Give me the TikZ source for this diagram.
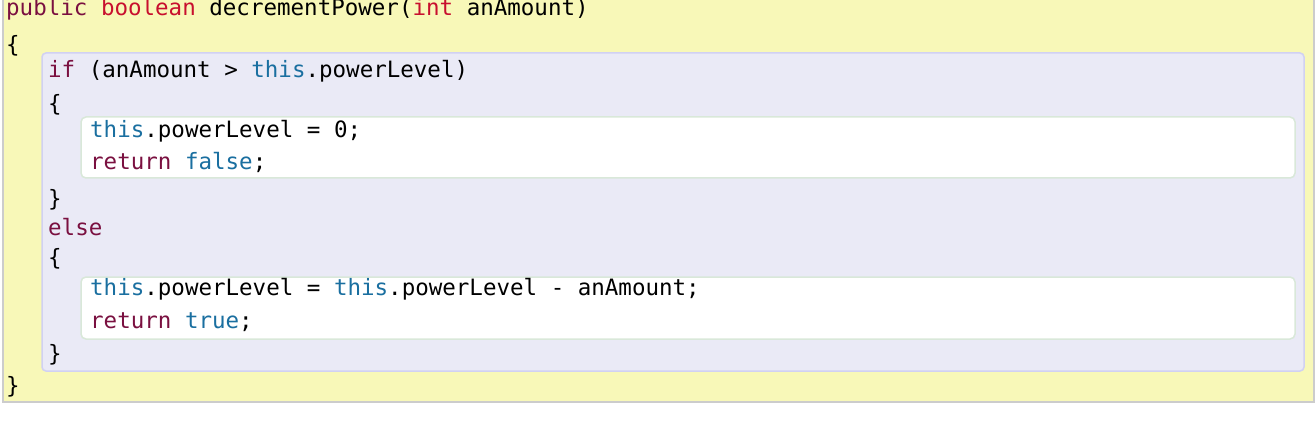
\documentclass[tikz,border=0pt]{standalone}
\usepackage{fontspec}
\setmonofont{DejaVu Sans Mono}
\definecolor{kw}{HTML}{7A1040}
\definecolor{bl}{HTML}{1A6FA0}
\definecolor{rd}{HTML}{C8102E}
\definecolor{yel}{HTML}{F8F8B8}
\definecolor{lav}{HTML}{EAEAF6}
\begin{document}
\begin{tikzpicture}[x=1pt,y=-1pt,
  code/.style={anchor=base west,inner sep=0pt,font=\ttfamily\fontsize{22.5}{24}\selectfont,text=black}]
\useasboundingbox (0,0) rectangle (1316,422);
\fill[white] (0,0) rectangle (1316,422);
\draw[fill=yel,draw=black!20,line width=1.5pt] (3,-10) rectangle (1314,402);
\draw[fill=lav,draw=black!15!lav!70!blue!40,line width=1.5pt,rounded corners=4pt] (42,53) rectangle (1304,371);
\draw[fill=white,draw=green!40!black!15,line width=1.5pt,rounded corners=5pt] (81,117) rectangle (1295,178);
\draw[fill=white,draw=green!40!black!15,line width=1.5pt,rounded corners=5pt] (81,277) rectangle (1295,339);
\node[code] (l1) at (6,16) {\textcolor{kw}{public} \textcolor{rd}{boolean} decrementPower(\textcolor{rd}{int} anAmount)};
\node[code] (l2) at (6,53) {\{};
\node[code] (l3) at (48,78) {\textcolor{kw}{if} (anAmount > \textcolor{bl}{this}.powerLevel)};
\node[code] (l4) at (48,112) {\{};
\node[code] (l5) at (90,138) {\textcolor{bl}{this}.powerLevel = 0;};
\node[code] (l6) at (90,170) {\textcolor{kw}{return} \textcolor{bl}{false};};
\node[code] (l7) at (48,206) {\}};
\node[code] (l8) at (48,235) {\textcolor{kw}{else}};
\node[code] (l9) at (48,265) {\{};
\node[code] (l10) at (90,295) {\textcolor{bl}{this}.powerLevel = \textcolor{bl}{this}.powerLevel - anAmount;};
\node[code] (l11) at (90,328) {\textcolor{kw}{return} \textcolor{bl}{true};};
\node[code] (l12) at (48,361) {\}};
\node[code] (l13) at (6,393) {\}};
\end{tikzpicture}
\end{document}
